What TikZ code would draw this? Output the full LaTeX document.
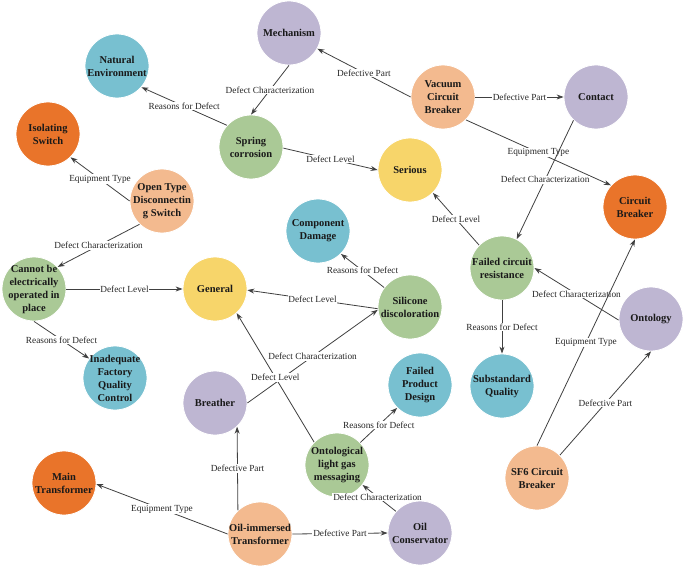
\documentclass[tikz,border=0pt]{standalone}
\usepackage{fontspec}
\setmainfont{Liberation Serif}
\usetikzlibrary{arrows.meta}
\definecolor{cpurple}{HTML}{BEB6D2}
\definecolor{cblue}{HTML}{78C0D0}
\definecolor{cdorange}{HTML}{E9742A}
\definecolor{cpeach}{HTML}{F3BA8F}
\definecolor{cyellow}{HTML}{F7D56A}
\definecolor{cgreen}{HTML}{AAC996}
\begin{document}
\begin{tikzpicture}[x=1pt,y=-1pt,
  ball/.style={circle, minimum size=64pt, inner sep=0pt, draw=white, line width=0.8pt},
  ntext/.style={font=\fontsize{10.5}{13}\selectfont\bfseries, align=center, text=black!90, inner sep=0pt},
  edge/.style={draw=black!75, line width=0.8pt, -{Stealth[length=7pt,width=5pt]}},
  elab/.style={fill=white, inner sep=0.8pt, font=\fontsize{9.3}{10}\selectfont, text=black!85},
]
\useasboundingbox (0,0) rectangle (685,567);
% nodes
\node[ball, fill=cpurple, label={[ntext]center:Mechanism}] (mech) at (289,33) {};
\node[ball, fill=cblue, label={[ntext]center:{Natural\\Environment}}] (ne) at (117,66) {};
\node[ball, fill=cdorange, label={[ntext]center:{Isolating\\Switch}}] (iso) at (48,134) {};
\node[ball, fill=cgreen, label={[ntext]center:{Spring\\corrosion}}] (spr) at (251,147) {};
\node[ball, fill=cpeach, label={[ntext]center:{Vacuum\\Circuit\\Breaker}}] (vcb) at (443,97) {};
\node[ball, fill=cpurple, label={[ntext]center:Contact}] (con) at (596,97) {};
\node[ball, fill=cyellow, label={[ntext]center:Serious}] (ser) at (410,170) {};
\node[ball, fill=cdorange, label={[ntext]center:{Circuit\\Breaker}}] (cb) at (635,207) {};
\node[ball, fill=cpeach, label={[ntext]center:{Open Type\\Disconnectin\\g Switch}}] (otd) at (162,201) {};
\node[ball, fill=cblue, label={[ntext]center:{Component\\Damage}}] (cd) at (318,231) {};
\node[ball, fill=cgreen, label={[ntext]center:{Cannot be\\electrically\\operated in\\place}}] (cbe) at (34,289) {};
\node[ball, fill=cyellow, label={[ntext]center:General}] (gen) at (215,289) {};
\node[ball, fill=cgreen, label={[ntext]center:{Silicone\\discoloration}}] (sil) at (410,307) {};
\node[ball, fill=cgreen, label={[ntext]center:{Failed circuit\\resistance}}] (fcr) at (502,268) {};
\node[ball, fill=cpurple, label={[ntext]center:Ontology}] (ont) at (651,319) {};
\node[ball, fill=cblue, label={[ntext]center:{Inadequate\\Factory\\Quality\\Control}}] (ifq) at (115,378) {};
\node[ball, fill=cpurple, label={[ntext]center:Breather}] (bre) at (215,403) {};
\node[ball, fill=cblue, label={[ntext]center:{Failed\\Product\\Design}}] (fpd) at (420,385) {};
\node[ball, fill=cblue, label={[ntext]center:{Substandard\\Quality}}] (sq) at (502,386) {};
\node[ball, fill=cgreen, label={[ntext]center:{Ontological\\light gas\\messaging}}] (olg) at (337,465) {};
\node[ball, fill=cdorange, label={[ntext]center:{Main\\Transformer}}] (mt) at (64,483) {};
\node[ball, fill=cpeach, label={[ntext]center:{Oil-immersed\\Transformer}}] (oit) at (260,534) {};
\node[ball, fill=cpurple, label={[ntext]center:{Oil\\Conservator}}] (oc) at (420,533) {};
\node[ball, fill=cpeach, label={[ntext]center:{SF6 Circuit\\Breaker}}] (sf6) at (537,478) {};
% edges
\draw[edge] (vcb.180) -- node[elab] (l1) {Defective Part} (mech.-29);
\draw[edge] (mech.-90) -- node[elab] (l2) {Defect Characterization} (spr.90);
\draw[edge] (spr.138) -- node[elab] (l3) {Reasons for Defect} (ne.-41);
\draw[edge] (spr.-2) -- node[elab] (l4) {Defect Level} (ser.180);
\draw[edge] (vcb.0) -- node[elab] (l5) {Defective Part} (con.180);
\draw[edge] (vcb.-45) -- node[elab] (l6) {Equipment Type} (cb.138);
\draw[edge] (con.-134) -- node[elab] (l7) {Defect Characterization} (fcr.63);
\draw[edge] (fcr.135) -- node[elab] (l8) {Defect Level} (ser.-45);
\draw[edge] (otd.180) -- node[elab] (l9) {Equipment Type} (iso.-46);
\draw[edge] (otd.-134) -- node[elab] (l10) {Defect Characterization} (cbe.43);
\draw[edge] (cbe.0) -- node[elab] (l11) {Defect Level} (gen.180);
\draw[edge] (cbe.-90) -- node[elab] (l12) {Reasons for Defect} (ifq.143);
\draw[edge] (sil.183) -- node[elab] (l13) {Defect Level} (gen.-2);
\draw[edge] (sil.143) -- node[elab] (l14) {Reasons for Defect} (cd.-45);
\draw[edge] (fcr.-90) -- node[elab] (l15) {Reasons for Defect} (sq.90);
\draw[edge] (ont.182) -- node[elab] (l16) {Defect Characterization} (fcr.0);
\draw[edge] (sf6.90) -- node[elab] (l17) {Equipment Type} (cb.-90);
\draw[edge] (sf6.45) -- node[elab] (l18) {Defective Part} (ont.-90);
\draw[edge] (bre.0) -- node[elab] (l19) {Defect Characterization} (sil.185);
\draw[edge] (olg.135) -- node[elab] (l20) {Defect Level} (gen.-48);
\draw[edge] (olg.44) -- node[elab] (l21) {Reasons for Defect} (fpd.-135);
\draw[edge] (oc.138) -- node[elab, pos=0.55] (l22) {Defect Characterization} (olg.-38);
\draw[edge] (oit.133) -- node[elab] (l23) {Defective Part} (bre.-47);
\draw[edge] (oit.180) -- node[elab] (l24) {Equipment Type} (mt.-2);
\draw[edge] (oit.0) -- node[elab] (l25) {Defective Part} (oc.180);
\end{tikzpicture}
\end{document}
